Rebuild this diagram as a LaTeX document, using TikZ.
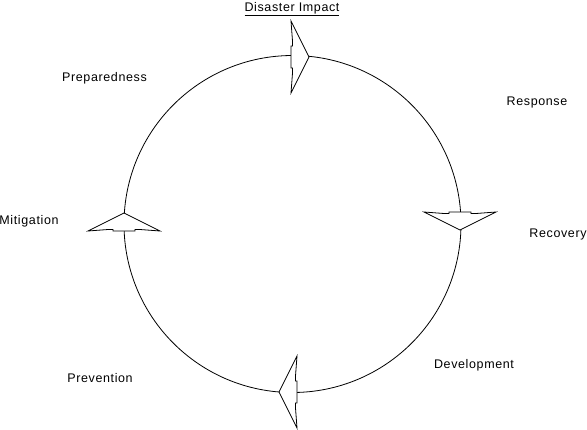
\documentclass[tikz,border=0pt]{standalone}
\usepackage{fontspec}
\setmainfont{Liberation Sans}[LetterSpace=5]
\usetikzlibrary{positioning}

\tikzset{
  cyclearrow/.pic={
    \draw[fill=white] (0,-36) -- (1.5,-16) -- (1.5,-11) -- (0,-11) -- (0,11)
      -- (1.5,11) -- (1.5,16) -- (0,36) -- (18,0) -- cycle;
  }
}

\begin{document}
\begin{tikzpicture}[x=1pt, y=-1pt, line width=0.8pt, font=\fontsize{12.5}{15}\selectfont]
  \useasboundingbox (0,0) rectangle (587,429);
  \node[draw, circle, minimum size=337pt, inner sep=0pt] (cycle) at (292.5,224) {};
  \foreach \x/\y/\r in {291/57/0, 460/212/-90, 297/392/180, 124/231/90} {
    \pic[rotate=\r] at (\x,\y) {cyclearrow};
  }

  \node[inner sep=0pt] (impact) at (292,9) {\underline{Disaster Impact}};
  \foreach \x/\y/\name/\label in {104.5/78.5/prep/Preparedness, 537/102.5/resp/Response,
      558/234/recov/Recovery, 29/221/mitig/Mitigation,
      474/365/devel/Development, 100/378.5/prev/Prevention} {
    \node[inner sep=0pt] (\name) at (\x,\y) {\label};
  }
\end{tikzpicture}
\end{document}
